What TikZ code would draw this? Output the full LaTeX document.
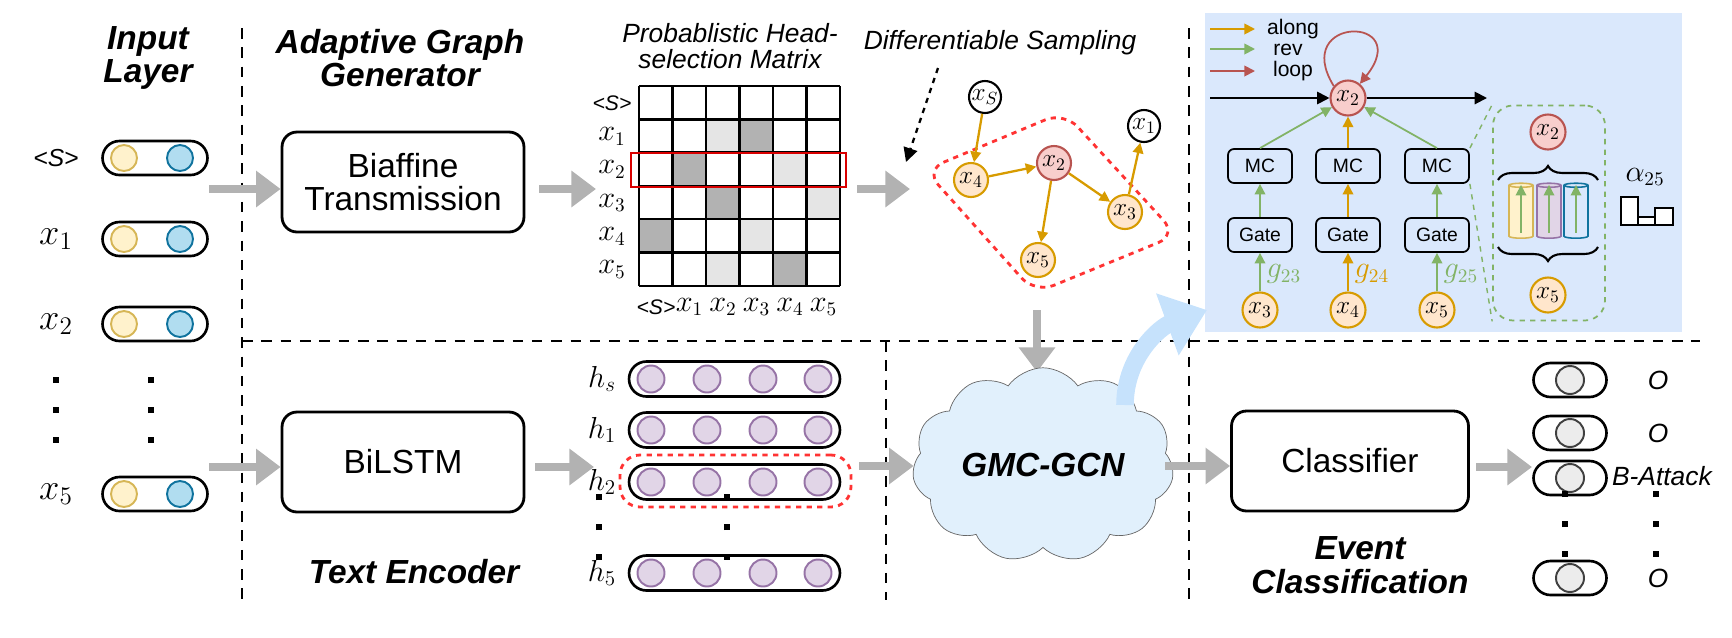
\documentclass[tikz,border=0pt]{standalone}
\usepackage{fontspec}
\setmainfont{Liberation Sans}
\usetikzlibrary{arrows.meta,shapes.geometric,shapes.symbols,decorations.pathreplacing}
\definecolor{ylwF}{HTML}{FFF2CC}\definecolor{ylwD}{HTML}{D6B656}
\definecolor{bluF}{HTML}{B1DDF0}\definecolor{bluD}{HTML}{10739E}
\definecolor{purF}{HTML}{E1D5E7}\definecolor{purD}{HTML}{9673A6}
\definecolor{orgF}{HTML}{FFE6CC}\definecolor{orgD}{HTML}{D79B00}
\definecolor{redF}{HTML}{F8CECC}\definecolor{redD}{HTML}{B85450}
\definecolor{grnD}{HTML}{82B366}\definecolor{panel}{HTML}{DAE8FC}
\definecolor{cloudF}{HTML}{E1F0FC}\definecolor{bigarr}{HTML}{C6E2FC}
\newcommand{\fs}[1]{\fontsize{#1}{#1}\selectfont}
\newcommand{\sqdots}{\rule{3.5pt}{3.5pt}\\[5pt]\rule{3.5pt}{3.5pt}\\[5pt]\rule{3.5pt}{3.5pt}}
\begin{document}
\begin{tikzpicture}[x=0.02cm,y=-0.02cm,
  head/.style={font=\fs{19pt}\bfseries\itshape,align=center},
  bigbox/.style={draw,line width=1.6pt,rounded corners=3mm,minimum width=4.84cm,minimum height=2cm,font=\fs{19pt},align=center},
  pill/.style={draw,line width=1.5pt,rounded corners=0.34cm,minimum width=2.1cm,minimum height=0.68cm},
  dot/.style={circle,line width=1.1pt,minimum size=0.52cm,inner sep=0pt},
  gray arrow/.style={draw=gray!60,line width=4.5pt,-{Triangle[length=14pt,width=20pt]}},
  sep/.style={dashed,line width=1.2pt,dash pattern=on 6pt off 5pt},
  gnode/.style={circle,line width=1.2pt,minimum size=0.68cm,inner sep=0pt,font=\fs{14pt}},
  onode/.style={gnode,draw=orgD,fill=orgF},
  rnode/.style={gnode,draw=redD,fill=redF},
  oarr/.style={draw=orgD,line width=1.3pt,-{Triangle[length=6pt,width=6pt]}},
  garr/.style={draw=grnD,line width=1pt,-{Triangle[length=6pt,width=6pt]}},
  sbox/.style={draw,line width=1pt,rounded corners=1.2mm,minimum width=1.28cm,minimum height=0.68cm,font=\fs{11pt}},
  vdots/.style={align=center,inner sep=0pt}
]
\useasboundingbox (0,0) rectangle (1732,637);

% separators
\draw[sep] (242,28) -- (242,605);
\draw[sep] (242,341) -- (1700,341);
\draw[sep] (886,341) -- (886,600);
\draw[sep] (1189,28) -- (1189,600);

% panel background
\fill[panel] (1205,13) rectangle (1682,332);

% headings
\node[head] (hin) at (148,58) {Input\\Layer};
\node[head] (hagg) at (400,58) {Adaptive Graph\\Generator};
\node[head] (hte) at (414,572) {Text Encoder};
\node[head] (hec) at (1360,565) {Event\\Classification};

% input layer
\foreach \n/\y/\l in {s/158/{\fs{14pt}\itshape <S>},a/239/$x_1$,b/324/$x_2$,e/494/$x_5$}{
  \node[pill] (p\n) at (155,\y) {};
  \node[dot,draw=ylwD,fill=ylwF] (py\n) at (124,\y) {};
  \node[dot,draw=bluD,fill=bluF] (pb\n) at (180,\y) {};
  \node[font=\fs{20pt}] (pl\n) at (56,\y) {\l};
}
\node[vdots] (dl1) at (56,410) {\sqdots};
\node[vdots] (dl2) at (151,410) {\sqdots};

% boxes
\node[bigbox] (biaf) at (403,182) {Biaffine\\Transmission};
\node[bigbox] (bilstm) at (403,462) {BiLSTM};
\coordinate (ia) at (209,189);
\coordinate (ib) at (209,467);
\draw[gray arrow] (ia) -- (biaf.west|-ia);
\draw[gray arrow] (ib) -- (bilstm.west|-ib);

% matrix
\node[font=\fs{15pt}\itshape,align=center] (mt) at (730,46) {Probablistic Head-\\selection Matrix};
\foreach \r/\c/\f in {1/2/gray!20,1/3/gray!60,2/1/gray!60,2/4/gray!20,3/2/gray!60,3/5/gray!20,4/0/gray!60,4/3/gray!20,5/2/gray!20,5/4/gray!60}{
  \fill[\f] (639+33.5*\c,86+33.3*\r) rectangle ++(33.5,33.3);
}
\foreach \i in {0,...,6}{
  \draw[line width=1.4pt] (639+33.5*\i,86) -- (639+33.5*\i,286);
  \draw[line width=1.4pt] (639,86+33.3*\i) -- (840,86+33.3*\i);
}
\foreach \l [count=\i from 0] in {{\fs{12pt}\itshape <S>},$x_1$,$x_2$,$x_3$,$x_4$,$x_5$}{
  \node[font=\fs{16pt}] (r\i) at (612,103+33.3*\i) {\l};
  \node[font=\fs{16pt}] (c\i) at (656+33.5*\i,307) {\l};
}
\node[draw=red!85!black,line width=1.6pt,minimum width=4.3cm,minimum height=0.68cm,inner sep=0pt] (sel) at (738.5,170) {};
\draw[gray arrow] (biaf.east|-ia) ++(14,0) coordinate (ba) -- (596,189);

% graph
\node[font=\fs{15pt}\itshape] (ds) at (1000,43) {Differentiable Sampling};
\coordinate (dsa) at (938,68);
\coordinate (dsb) at (906,162);
\draw[dashed,line width=1.3pt,-{Triangle[length=8pt,width=8pt]}] (dsa) -- (dsb);
\draw[red!80,dashed,line width=1.6pt,rounded corners=4mm] (925,170) -- (1064,112) -- (1177,235) -- (1035,293) -- cycle;
\node[gnode,draw,minimum size=0.64cm] (xs) at (985,97) {$x_S$};
\node[gnode,draw,minimum size=0.64cm] (x1) at (1144,126) {$x_1$};
\node[onode] (x4) at (971,180) {$x_4$};
\node[rnode] (x2) at (1054,163) {$x_2$};
\node[onode] (x3) at (1125,212) {$x_3$};
\node[onode] (x5) at (1038,260) {$x_5$};
\draw[oarr] (xs) -- (x4);
\draw[oarr] (x4) -- (x2);
\draw[oarr] (x2) -- (x3);
\draw[oarr] (x2) -- (x5);
\draw[oarr] (x3) -- (x1);
\coordinate (ma) at (857,189);
\coordinate (mb) at (910,189);
\draw[gray arrow] (ma) -- (mb);
\coordinate (ga) at (1037,310);
\coordinate (gb) at (1037,372);
\draw[gray arrow] (ga) -- (gb);

% hidden states
\foreach \n/\y/\l in {s/379/$h_s$,a/430/$h_1$,b/482/$h_2$,e/573/$h_5$}{
  \node[pill,minimum width=4.22cm,minimum height=0.7cm,rounded corners=0.35cm] (h\n) at (734.5,\y) {};
  \foreach \xx [count=\k] in {651,707,763,818}
    \node[dot,draw=purD,fill=purF,minimum size=0.54cm] (h\n\k) at (\xx,\y) {};
  \node[font=\fs{17pt}] (hl\n) at (602,\y) {\l};
}
\node[draw=red!80,dashed,line width=1.6pt,rounded corners=4mm,minimum width=4.62cm,minimum height=1.04cm] (hsel) at (735.5,481) {};
\node[vdots] (dh1) at (599,527) {\sqdots};
\node[vdots] (dh2) at (727,527) {\sqdots};
\coordinate (la) at (535,467);
\draw[gray arrow] (la) -- (594,467);

% cloud
\node[cloud,cloud puffs=11,cloud puff arc=110,aspect=1.5,draw=gray!80!black,fill=cloudF,minimum width=4.8cm,minimum height=3.2cm,font=\fs{19pt}\bfseries\itshape] (gcn) at (1043,465) {GMC-GCN};
\coordinate (ca) at (859,466);
\draw[gray arrow] (ca) -- (gcn.west|-ca);
\coordinate (cz) at (1125,405);
\coordinate (cy) at (1207,310);
\draw[bigarr,line width=10pt,-{Triangle[length=24pt,width=36pt]}] (cz) to[out=90,in=200] (cy);

% classifier
\node[bigbox,minimum width=4.74cm] (cls) at (1350,461) {Classifier};
\coordinate (ka) at (1165,466);
\draw[gray arrow] (ka) -- (cls.west|-ka);
\coordinate (oa) at (1476,467);
\draw[gray arrow] (oa) -- (1532,467);
\foreach \n/\y in {a/380,b/433,c/478,d/578}{
  \node[pill,minimum width=1.46cm,minimum height=0.68cm] (o\n) at (1570,\y) {};
  \node[dot,draw=black!75,fill=gray!15,minimum size=0.56cm] (oc\n) at (1570,\y) {};
}
\node[font=\fs{15pt}\itshape] (ola) at (1658,380) {O};
\node[font=\fs{15pt}\itshape] (olb) at (1658,433) {O};
\node[font=\fs{15pt}\itshape,anchor=west,inner sep=1pt] (olc) at (1610,476) {B-Attack};
\node[font=\fs{15pt}\itshape] (old) at (1658,578) {O};
\node[vdots] (do1) at (1565,524) {\sqdots};
\node[vdots] (do2) at (1656,524) {\sqdots};

% panel content
\coordinate (lg1) at (1210,29); \coordinate (lg1e) at (1255,29);
\coordinate (lg2) at (1210,49); \coordinate (lg2e) at (1255,49);
\coordinate (lg3) at (1210,71); \coordinate (lg3e) at (1255,71);
\draw[oarr,line width=1pt] (lg1) -- (lg1e);
\draw[garr] (lg2) -- (lg2e);
\draw[draw=redD,line width=1pt,-{Triangle[length=6pt,width=6pt]}] (lg3) -- (lg3e);
\node[font=\fs{12pt}] (tl1) at (1293,29) {along};
\node[font=\fs{12pt}] (tl2) at (1288,50) {rev};
\node[font=\fs{12pt}] (tl3) at (1293,71) {loop};
\node[rnode,minimum size=0.7cm] (px2) at (1348,98) {$x_2$};
\draw[draw=redD,line width=1pt,-{Triangle[length=6pt,width=6pt]}] (px2.140) .. controls (1290,15) and (1415,15) .. (px2.50);
\coordinate (bin) at (1210,98);
\coordinate (bout) at (1487,98);
\draw[line width=1.1pt,-{Triangle[length=7pt,width=7pt]}] (bin) -- (px2);
\draw[line width=1.1pt,-{Triangle[length=7pt,width=7pt]}] (px2) -- (bout);
\foreach \k/\xx/\c/\g in {1/1260/grnD/23,2/1348/orgD/24,3/1437/grnD/25}{
  \node[sbox] (mc\k) at (\xx,166) {MC};
  \node[sbox] (gt\k) at (\xx,235) {Gate};
  \node[onode,minimum size=0.7cm] (bx\k) at (\xx,310) {$x_{\the\numexpr\k+2\relax}$};
  \draw[draw=\c,line width=1pt,-{Triangle[length=6pt,width=6pt]}] (bx\k) -- node[right,text=\c,font=\fs{16pt},pos=0.45] {$g_{\g}$} (gt\k);
  \draw[draw=\c,line width=1pt,-{Triangle[length=6pt,width=6pt]}] (gt\k) -- (mc\k);
}
\draw[garr] (mc1.north) -- (px2);
\draw[oarr,line width=1pt] (mc2.north) -- (px2);
\draw[garr] (mc3.north) -- (px2);
\node[draw=grnD,dashed,line width=1pt,rounded corners=4mm,minimum width=2.24cm,minimum height=4.3cm] (zb) at (1549,213) {};
\draw[draw=grnD,dashed,line width=0.8pt] (mc3.north east) -- (zb.north west);
\draw[draw=grnD,dashed,line width=0.8pt] (mc3.south east) -- (zb.south west);
\node[rnode,minimum size=0.7cm] (zx2) at (1548,132) {$x_2$};
\node[onode,minimum size=0.7cm] (zx5) at (1548,295) {$x_5$};
\coordinate (br1) at (1498,180); \coordinate (br2) at (1598,180);
\coordinate (br3) at (1598,247); \coordinate (br4) at (1498,247);
\draw[line width=1.2pt,decorate,decoration={brace,amplitude=8pt}] (br1) -- (br2);
\draw[line width=1.2pt,decorate,decoration={brace,amplitude=8pt}] (br3) -- (br4);
\foreach \k/\xx/\f/\d in {1/1521/ylwF/ylwD,2/1549/purF/purD,3/1576/panel/bluD}{
  \node[cylinder,shape border rotate=90,aspect=0.35,draw=\d,fill=\f,line width=0.9pt,minimum width=0.48cm,minimum height=1.1cm] (cy\k) at (\xx,213) {};
  \draw[garr] (cy\k.bottom) ++(0,-6) coordinate (cs\k) -- ([yshift=-0.05cm]cy\k.top);
}
\node[font=\fs{16pt}] (al) at (1645,177) {$\alpha_{25}$};
\draw[line width=1pt,fill=white] (1621,197) rectangle (1638,225);
\draw[line width=1pt,fill=white] (1638,217) rectangle (1655,225);
\draw[line width=1pt,fill=white] (1655,208) rectangle (1673,225);
\end{tikzpicture}
\end{document}
